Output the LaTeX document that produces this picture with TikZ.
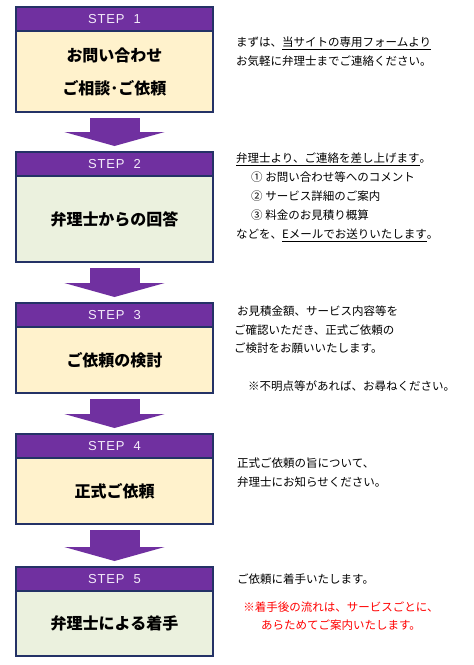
\documentclass[tikz,border=0pt]{standalone}
\usepackage{fontspec}
\setmainfont{Noto Sans CJK JP}
\newfontfamily\stepfont{Liberation Sans}[LetterSpace=6]
\usetikzlibrary{positioning, arrows.meta}
\definecolor{stepPurple}{HTML}{7030A0}
\definecolor{boxLine}{HTML}{243266}
\definecolor{bgCream}{HTML}{FFF2CC}
\definecolor{bgGreen}{HTML}{EBF1DE}
\definecolor{stepText}{HTML}{F4ECFA}
\newcommand{\stepno}[1]{{\stepfont\fontsize{13}{13}\selectfont STEP\hspace{9pt}#1}}

\begin{document}
\begin{tikzpicture}[x=1pt, y=-1pt,
    header/.style={fill=stepPurple, draw=boxLine, line width=1.2pt, minimum width=197pt,
      minimum height=24pt, inner sep=0pt, outer sep=0pt, text=stepText},
    body/.style={draw=boxLine, line width=1.2pt, minimum width=197pt, inner sep=0pt,
      outer sep=0pt, align=center, font=\fontsize{16}{33}\selectfont\bfseries},
    flow/.style={line width=50pt, draw=stepPurple, -{Triangle[length=14pt, width=100pt]},
      shorten <=6pt, shorten >=6pt},
    note/.style={anchor=north west, inner sep=0pt, align=left, font=\fontsize{11.5}{19}\selectfont}]
      \useasboundingbox (0,0) rectangle (474,665);

      % steps
      \node[header] (h1) at (114.5,19) {\stepno{1}};
      \node[body, fill=bgCream, minimum height=81pt, below=0pt of h1] (b1) {お問い合わせ\\ご相談･ご依頼};
      \node[header, below=40pt of b1] (h2) {\stepno{2}};
      \node[body, fill=bgGreen, minimum height=86pt, below=0pt of h2] (b2) {弁理士からの回答};
      \node[header, below=41pt of b2] (h3) {\stepno{3}};
      \node[body, fill=bgCream, minimum height=66pt, below=0pt of h3] (b3) {ご依頼の検討};
      \node[header, below=41pt of b3] (h4) {\stepno{4}};
      \node[body, fill=bgCream, minimum height=66pt, below=0pt of h4] (b4) {正式ご依頼};
      \node[header, below=43pt of b4] (h5) {\stepno{5}};
      \node[body, fill=bgGreen, minimum height=65pt, below=0pt of h5] (b5) {弁理士による着手};

      % arrows
      \foreach \a/\b in {b1/h2, b2/h3, b3/h4, b4/h5}
        \draw[flow] (\a.south) -- (\b.north);

      % texts
      \node[note] (t1) at (236,37) {まずは、\underline{当サイトの専用フォームより}\\お気軽に弁理士までご連絡ください。};
      \node[note] (t2) at (236,153) {\underline{弁理士より、ご連絡を差し上げます}。\\
        \hspace*{15pt}① お問い合わせ等へのコメント\\
        \hspace*{15pt}② サービス詳細のご案内\\
        \hspace*{15pt}③ 料金のお見積り概算\\
        などを、\underline{Eメールでお送りいたします}。};
      \node[note, font=\fontsize{11.5}{18.5}\selectfont] (t3) at (234,306) {\hspace*{3pt}お見積金額、サービス内容等を\\ご確認いただき、正式ご依頼の\\ご検討をお願いいたします。};
      \node[note] (t3n) at (248,381) {※不明点等があれば、お尋ねください。};
      \node[note] (t4) at (237,458) {正式ご依頼の旨について、\\弁理士にお知らせください。};
      \node[note] (t5) at (237,574) {ご依頼に着手いたします。};
      \node[note, anchor=center, align=center, text=red, font=\fontsize{11.5}{18}\selectfont] (t5n) at (341,616) {※着手後の流れは、サービスごとに、\\あらためてご案内いたします。};
\end{tikzpicture}
\end{document}
